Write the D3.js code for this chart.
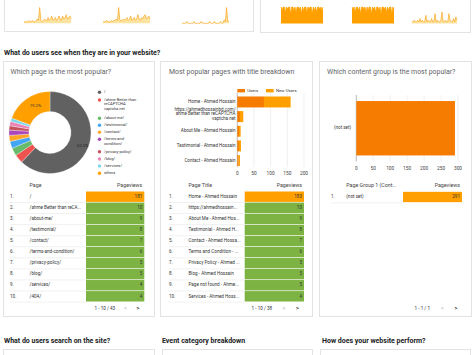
<!DOCTYPE html>
<html><head><meta charset="utf-8">
<script src="https://cdn.jsdelivr.net/npm/d3@7"></script>
<style>body{margin:0;background:#fff;} svg{display:block;font-family:Roboto, "Noto Sans", sans-serif;}</style>
</head><body><svg id="c" width="474" height="355"></svg>
<script>
// ---------- DATA ----------
const spark1 = [1,1,1,1,2,1,1,2,1,1,2,3,2,11,2,1,2,3,2,2,4,2,3,5,2,3,4,2,3,5,3,2,5,3,4,6,3,4,5,3];
const spark2 = [1,1,1,2,1,1,1,2,1,2,2,3,2,11,2,2,2,3,2,3,4,2,3,5,2,3,4,2,3,6,3,2,4,3,5,6,3,4,5,3];
const spark3 = [0,0,0,0,1,0,0,0,0,0,1,0,0,0,0,0,1,0,0,0,0,0,0,1,0,0,0,1,0,0,0,0,1,0,0,2,1,9,1,1];
const spark4 = [10,8,10,10,7,10,9,10,10,6,10,10,8,10,7,10,10,9,10,6,10,8,10,10,7,10,9,10,10,6,10,8,10,7,10,10,9,10,8,10];
const spark5 = [10,9,10,7,10,10,8,10,6,10,10,9,10,7,10,8,10,10,6,10,9,10,7,10,10,8,10,6,10,10,9,10,7,10,8,10,10,6,10,9];
const spark6 = [1,1,2,1,1,2,1,3,1,2,1,1,5,1,2,1,1,3,1,1,6,1,2,1,1,2,7,1,1,2,1,1,6,2,1,1,3,1,4,2];

const pieLabels = ["/", "/ahme Better than reCAPTCHA vaptcha.net", "/about-me/", "/testimonial/", "/contact/", "/terms-and-condition/", "/privacy-policy/", "/blog/", "/services/", "others"];
const pieLegendLines = [["/"], ["/ahme Better than", "reCAPTCHA", "vaptcha.net"], ["/about-me/"], ["/testimonial/"], ["/contact/"], ["/terms-and-", "condition/"], ["/privacy-policy/"], ["/blog/"], ["/services/"], ["others"]];
const pieValues = [181, 10, 9, 8, 7, 6, 5, 5, 4, 56];
const pieColors = ["#616161", "#ef5350", "#66bb6a", "#42a5f5", "#ffa726", "#ab47bc", "#c6525e", "#ec84b5", "#7fd8ee", "#ffa000"];

const pageNames = ["/", "/ahme Better than reCA...", "/about-me/", "/testimonial/", "/contact/", "/terms-and-condition/", "/privacy-policy/", "/blog/", "/services/", "/404/"];
const pageViews = [181, 10, 9, 8, 7, 6, 5, 5, 4, 4];

const titleCats = [["Home - Ahmed Hossain"], ["https://ahmedhossainbd.com/", "ahme Better than reCAPTCHA", "vaptcha.net"], ["About Me - Ahmed Hossain"], ["Testimonial - Ahmed Hossain"], ["Contact - Ahmed Hossain"]];
const users = [80, 8, 5, 5, 4];
const newUsers = [80, 10, 5, 6, 4];
const barTicks = [0, 50, 100, 150, 200];

const titleNames = ["Home - Ahmed Hossain", "https://ahmedhossain...", "About Me - Ahmed Hos...", "Testimonial - Ahmed H...", "Contact - Ahmed Hossa...", "Terms and Condition - ...", "Privacy Policy - Ahmed ...", "Blog - Ahmed Hossain", "Page not found - Ahme...", "Services - Ahmed Hoss..."];
const titleViews = [183, 10, 9, 8, 7, 6, 5, 5, 5, 4];

const groupCats = ["(not set)"];
const groupViews = [291];
const groupTicks = [0, 50, 100, 150, 200, 250, 300];

// ---------- DRAW ----------
const svg = d3.select("#c");
const ORANGE = "#ffa000", DARKOR = "#f57c00", GREEN = "#7cb342", GRID = "#e6e6e6";
const TXT = "#5f6368";

function card(x, y, w, h) {
  svg.append("rect").attr("x", x + 0.5).attr("y", y + 0.5).attr("width", w).attr("height", h)
    .attr("fill", "#fff").attr("stroke", "#e3e3e3").attr("stroke-width", 1);
}
function text(x, y, s, size, opt = {}) {
  return svg.append("text").attr("x", x).attr("y", y).text(s)
    .attr("font-size", size).attr("fill", opt.fill || TXT)
    .attr("font-weight", opt.weight || 400)
    .attr("text-anchor", opt.anchor || "start")
    .attr("dominant-baseline", "middle");
}

// top cards
card(4, -10, 249, 41);
card(260, -10, 210, 42);

function spark(data, x0, x1, yTop, yBase, dense) {
  const x = d3.scaleLinear().domain([0, data.length - 1]).range([x0, x1]);
  const y = d3.scaleLinear().domain([0, d3.max(data)]).range([yBase, yTop]);
  const area = d3.area().x((d, i) => x(i)).y0(yBase).y1(d => y(d));
  const line = d3.line().x((d, i) => x(i)).y(d => y(d));
  svg.append("path").datum(data).attr("d", area)
    .attr("fill", dense ? ORANGE : "#fbc02d").attr("fill-opacity", dense ? 1 : 0.45);
  svg.append("path").datum(data).attr("d", line)
    .attr("fill", "none").attr("stroke", dense ? ORANGE : "#f9a825").attr("stroke-width", 0.7);
}
spark(spark1, 24, 71, 7.5, 23.3, false);
spark(spark2, 103, 150, 7.5, 23.3, false);
spark(spark3, 182, 229, 7.5, 23.3, false);
spark(spark4, 281, 323, 7, 23.5, true);
spark(spark5, 352, 394, 7, 23.5, true);
spark(spark6, 412, 457, 12, 23.5, false);

// section titles
text(4, 53.5, "What do users see when they are in your website?", 7, { weight: 700, fill: "#202124" });
text(4, 340.7, "What do users search on the site?", 7, { weight: 700, fill: "#202124" });
text(162, 340.7, "Event category breakdown", 7, { weight: 700, fill: "#202124" });
text(322, 340.7, "How does your website perform?", 7, { weight: 700, fill: "#202124" });

// main cards
card(3, 61, 151, 255);
card(160, 61, 152, 255);
card(319, 61, 152, 255);
card(3, 349, 151, 20);
card(162, 349, 150, 20);
card(320, 349, 150, 20);

text(10.5, 72, "Which page is the most popular?", 6.95);
text(169, 72, "Most popular pages with title breakdown", 6.95);
text(327, 72, "Which content group is the most popular?", 6.95);

// ---- donut ----
const pie = d3.pie().sort(null).value(d => d)(pieValues);
const arc = d3.arc().innerRadius(21).outerRadius(41);
const g = svg.append("g").attr("transform", "translate(50,132.5)");
g.selectAll("path").data(pie).join("path").attr("d", arc)
  .attr("fill", (d, i) => pieColors[i]).attr("stroke", "#fff").attr("stroke-width", 0.3);
const total = d3.sum(pieValues);
const labArc = d3.arc().innerRadius(31).outerRadius(31);
[0, 9].forEach(i => {
  const c = labArc.centroid(pie[i]);
  g.append("text").attr("x", c[0] + (i === 0 ? 4 : 3)).attr("y", c[1] + (i === 0 ? 2 : -1))
    .attr("text-anchor", "middle").attr("dominant-baseline", "middle")
    .attr("font-size", 4.3).attr("fill", i === 0 ? "#1f1f1f" : "#333")
    .text((pieValues[i] / total * 100).toFixed(1) + "%");
});
// legend
const legY = [92.3, 100, 118.3, 125.3, 132.3, 139.3, 151.7, 159, 166, 173.3];
pieLegendLines.forEach((lines, i) => {
  svg.append("circle").attr("cx", 99.5).attr("cy", legY[i]).attr("r", 1.7).attr("fill", pieColors[i]);
  lines.forEach((l, j) => text(104, legY[i] + j * 4.4, l, 4, { fill: "#333" }));
});

// ---- tables ----
function table(x0, numX, nameX, barX0, barX1, header1, names, vals, pag, pagX, arrowL, arrowR) {
  text(nameX, 186, header1, 5.3, { fill: "#444" });
  text(barX1 - 2, 186, "Pageviews", 5.3, { fill: "#444", anchor: "end" });
  const y = d3.scaleBand().domain(d3.range(names.length)).range([191.5, 191.5 + 11 * names.length]).paddingInner(0.06);
  const mx = d3.max(vals);
  names.forEach((n, i) => {
    const yy = y(i);
    svg.append("rect").attr("x", barX0).attr("y", yy).attr("width", barX1 - barX0).attr("height", y.bandwidth())
      .attr("fill", vals[i] === mx ? ORANGE : GREEN);
    svg.append("line").attr("x1", numX).attr("x2", barX0).attr("y1", yy + 11).attr("y2", yy + 11)
      .attr("stroke", "#e8e8e8").attr("stroke-width", 0.6);
    const cy = yy + y.bandwidth() / 2;
    text(numX, cy, (i + 1) + ".", 4.6, { fill: "#333" });
    text(nameX, cy, n, 4.6, { fill: "#333" });
    text(barX1 - 2, cy, vals[i], 4.6, { fill: "#333", anchor: "end" });
  });
  text(pagX, 309, pag, 4.6, { fill: "#333" });
  text(arrowL, 309, "<", 5.5, { fill: "#aaa" });
  text(arrowR, 309, ">", 5.5, { fill: "#222", weight: 700 });
}
table(3, 10, 29.5, 86, 144.3, "Page", pageNames, pageViews, "1 - 10 / 43", 94.5, 124, 136.5);
table(160, 169, 188.5, 244.7, 304, "Page Title", titleNames, titleViews, "1 - 10 / 38", 251.5, 282.5, 296);
table(319, 331, 346.3, 403, 462, "Page Group 1 (Cont...", groupCats, groupViews, "1 - 1 / 1", 414.5, 441, 454.5);

// ---- stacked bar chart ----
{
  const x = d3.scaleLinear().domain([0, 200]).range([237.3, 304]);
  const y = d3.scaleBand().domain(d3.range(titleCats.length)).range([95, 167.5]).paddingInner(0.25).paddingOuter(0.1);
  barTicks.forEach(t => {
    svg.append("line").attr("x1", x(t)).attr("x2", x(t)).attr("y1", 93).attr("y2", 167)
      .attr("stroke", GRID).attr("stroke-width", 0.6);
    text(x(t), 173.3, t, 4.8, { fill: "#444", anchor: "middle" });
  });
  svg.append("line").attr("x1", x(0)).attr("x2", x(0)).attr("y1", 93).attr("y2", 167).attr("stroke", "#999").attr("stroke-width", 0.6);
  titleCats.forEach((lines, i) => {
    svg.append("rect").attr("x", x(0)).attr("y", y(i)).attr("width", x(users[i]) - x(0)).attr("height", y.bandwidth()).attr("fill", DARKOR);
    svg.append("rect").attr("x", x(users[i])).attr("y", y(i)).attr("width", x(users[i] + newUsers[i]) - x(users[i])).attr("height", y.bandwidth()).attr("fill", ORANGE);
    const cy = y(i) + y.bandwidth() / 2;
    const n = lines.length;
    lines.forEach((l, j) => text(235.5, cy + (j - (n - 1) / 2) * 4.4 - (n > 1 ? 2.5 : 0), l, 4.5, { fill: "#333", anchor: "end" }));
  });
  // legend
  svg.append("rect").attr("x", 237.3).attr("y", 89).attr("width", 7.7).attr("height", 3.4).attr("fill", DARKOR);
  text(247.3, 90.8, "Users", 4.3, { fill: "#333" });
  svg.append("rect").attr("x", 266).attr("y", 89).attr("width", 7.7).attr("height", 3.4).attr("fill", ORANGE);
  text(276, 90.8, "New Users", 4.3, { fill: "#333" });
}

// ---- content group bar ----
{
  const x = d3.scaleLinear().domain([0, 300]).range([356.3, 458]);
  const y = d3.scaleBand().domain(groupCats).range([95, 161.5]).paddingInner(0.1).paddingOuter(0.1);
  groupTicks.forEach(t => {
    svg.append("line").attr("x1", x(t)).attr("x2", x(t)).attr("y1", 95).attr("y2", 161.5)
      .attr("stroke", GRID).attr("stroke-width", 0.6);
    text(x(t), 168.3, t, 4.8, { fill: "#444", anchor: "middle" });
  });
  svg.append("line").attr("x1", x(0)).attr("x2", x(0)).attr("y1", 95).attr("y2", 161.5).attr("stroke", "#999").attr("stroke-width", 0.6);
  groupCats.forEach((c, i) => {
    svg.append("rect").attr("x", x(0)).attr("y", y(c)).attr("width", x(groupViews[i]) - x(0)).attr("height", y.bandwidth()).attr("fill", DARKOR);
    text(351, y(c) + y.bandwidth() / 2, c, 4.5, { fill: "#333", anchor: "end" });
  });
}
</script></body></html>
